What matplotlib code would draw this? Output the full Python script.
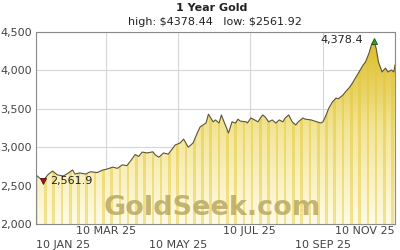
import numpy as np
import pandas as pd
import matplotlib
matplotlib.use("Agg")
from matplotlib import pyplot as plt
import matplotlib.dates as mdates
from matplotlib.colors import LinearSegmentedColormap

# gold price
dates = [
    "2025-01-11", "2025-01-16", "2025-01-20", "2025-01-24", "2025-01-28",
    "2025-02-02", "2025-02-05", "2025-02-10", "2025-02-12", "2025-02-16",
    "2025-02-21", "2025-02-25", "2025-03-03", "2025-03-07", "2025-03-11",
    "2025-03-16", "2025-03-20", "2025-03-24", "2025-03-28", "2025-04-01",
    "2025-04-04", "2025-04-07", "2025-04-10", "2025-04-14", "2025-04-19",
    "2025-04-21", "2025-04-24", "2025-04-28", "2025-05-02", "2025-05-05",
    "2025-05-08", "2025-05-12", "2025-05-15", "2025-05-17", "2025-05-19",
    "2025-05-23", "2025-05-27", "2025-05-29", "2025-06-03", "2025-06-05",
    "2025-06-09", "2025-06-11", "2025-06-14", "2025-06-16", "2025-06-19",
    "2025-06-20", "2025-06-22", "2025-06-25", "2025-06-28", "2025-06-30",
    "2025-07-02", "2025-07-07", "2025-07-08", "2025-07-11", "2025-07-13",
    "2025-07-17", "2025-07-19", "2025-07-21", "2025-07-23", "2025-07-26",
    "2025-07-29", "2025-08-01", "2025-08-04", "2025-08-07", "2025-08-09",
    "2025-08-12", "2025-08-15", "2025-08-18", "2025-08-20", "2025-08-24",
    "2025-08-26", "2025-08-31", "2025-09-04", "2025-09-08", "2025-09-10",
    "2025-09-12", "2025-09-15", "2025-09-18", "2025-09-21", "2025-09-23",
    "2025-09-27", "2025-09-29", "2025-10-02", "2025-10-05", "2025-10-08",
    "2025-10-10", "2025-10-14", "2025-10-16", "2025-10-19", "2025-10-21",
    "2025-10-23", "2025-10-25", "2025-10-27", "2025-10-30", "2025-11-02",
    "2025-11-04", "2025-11-07", "2025-11-09", "2025-11-10",
]
prices = [
    2625, 2561.92, 2640, 2690, 2640,
    2625, 2650, 2703, 2650, 2665,
    2650, 2680, 2670, 2700, 2715,
    2740, 2725, 2770, 2760, 2840,
    2905, 2880, 2937, 2925, 2940,
    2900, 2870, 2925, 2910, 2970,
    3030, 3055, 3105, 3050, 3000,
    3055, 3200, 3265, 3315, 3430,
    3330, 3355, 3315, 3420, 3300,
    3265, 3185, 3330, 3315, 3365,
    3340, 3330, 3315, 3380, 3365,
    3330, 3380, 3420, 3395, 3330,
    3355, 3315, 3355, 3330, 3380,
    3420, 3330, 3290, 3330, 3380,
    3365, 3355, 3335, 3315, 3330,
    3395, 3510, 3590, 3640, 3630,
    3680, 3720, 3770, 3835, 3915,
    3965, 4070, 4110, 4225, 4330,
    4378.44, 4290, 4110, 3980, 4030,
    3980, 4005, 3980, 4070,
]
tick_dates = ["2025-01-10", "2025-03-10", "2025-05-10",
              "2025-07-10", "2025-09-10", "2025-11-10"]
tick_labels = ["10 JAN 25", "10 MAR 25", "10 MAY 25",
               "10 JUL 25", "10 SEP 25", "10 NOV 25"]
y_ticks = [2000, 2500, 3000, 3500, 4000, 4500]

x = mdates.date2num(pd.to_datetime(dates))
y = np.array(prices)
x0 = mdates.date2num(pd.Timestamp(tick_dates[0]))
x1 = mdates.date2num(pd.Timestamp(tick_dates[-1]))
ymin, ymax = 2000, 4500

fig = plt.figure(figsize=(4, 2.5), dpi=100)
ax = fig.add_axes([0.09, 0.104, 0.8975, 0.768])
ax.set_xlim(x0, x1)
ax.set_ylim(ymin, ymax)

# area fill with vertical gradient, clipped to the price polygon
fill = ax.fill_between(x, y, ymin, facecolor="none", edgecolor="none")
clip = fill.get_paths()[0]
cmap = LinearSegmentedColormap.from_list("gold", ["#fffbe6", "#f3e596", "#d9b820"])
grad = np.linspace(0, 1, 256).reshape(-1, 1)
im = ax.imshow(grad, extent=[x0, x1, ymin, ymax], origin="lower",
               aspect="auto", cmap=cmap, zorder=1)
im.set_clip_path(clip, transform=ax.transData)

# weekly stripes
stripes = np.arange(x[0], x1, 7.0)
bars = ax.bar(stripes, ymax - ymin, bottom=ymin, width=2.2,
              color="#e2c630", alpha=0.45, zorder=1.5, linewidth=0)
for b in bars:
    b.set_clip_path(clip, transform=ax.transData)

ax.plot(x, y, color="#5c5535", lw=0.8, zorder=3)

# grid and frame
ax.set_xticks(mdates.date2num(pd.to_datetime(tick_dates)))
ax.set_yticks(y_ticks)
ax.grid(True, color="#d6d6d6", lw=0.8, zorder=0)
ax.set_axisbelow(True)
for s in ax.spines.values():
    s.set_color("#8a8a8a")
    s.set_linewidth(0.8)
ax.tick_params(length=0, labelsize=8, colors="#444444", pad=3)
ax.set_yticklabels([f"{v:,}" for v in y_ticks])
ax.set_xticklabels(tick_labels)
# staggered x labels: even ones on the lower row
for i, tk in enumerate(ax.xaxis.get_major_ticks()):
    tk.set_pad(11.5 if i % 2 == 0 else 1.5)
xt = ax.get_xticklabels()
xt[0].set_ha("left")
xt[-1].set_ha("right")

# high / low markers
i_hi = int(np.argmax(y))
i_lo = int(np.argmin(y))
ax.plot(x[i_hi], y[i_hi], marker="^", ms=4, color="#22aa22",
        mec="#1a4a1a", mew=0.6, zorder=4)
ax.plot(x[i_lo], y[i_lo], marker="v", ms=4, color="#aa1111",
        mec="#551111", mew=0.6, zorder=4)
ax.annotate(f"{y[i_hi]:,.1f}", (x[i_hi], y[i_hi]), xytext=(-8, 1),
            textcoords="offset points", ha="right", va="center",
            fontsize=8, color="#222222", zorder=5)
ax.annotate(f"{y[i_lo]:,.1f}", (x[i_lo], y[i_lo]), xytext=(5, 0),
            textcoords="offset points", ha="left", va="center",
            fontsize=8, color="#222222", zorder=5)

# watermark
ax.text(0.49, 0.085, "GoldSeek.com", transform=ax.transAxes,
        ha="center", va="center", fontsize=19.5, fontweight="bold",
        color="#bba960", alpha=0.85, zorder=2)

fig.text(0.53, 0.968, "1 Year Gold", ha="center", va="center",
         fontsize=8, fontweight="bold", color="#222222")
fig.text(0.538, 0.912, f"high: ${y[i_hi]:.2f}   low: ${y[i_lo]:.2f}",
         ha="center", va="center", fontsize=8, color="#222222",
         parse_math=False)

fig.savefig("out.png", dpi=100)
